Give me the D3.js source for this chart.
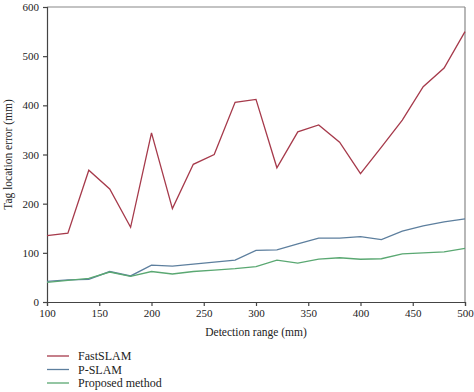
<!DOCTYPE html>
<html><head><meta charset="utf-8">
<script src="https://cdn.jsdelivr.net/npm/d3@7"></script>
<style>body{margin:0;background:#fff}svg{display:block}text{font-family:"Liberation Serif","DejaVu Serif",serif;fill:#222}</style>
</head><body><svg id="c" width="474" height="392"></svg>
<script>
const xs = [100,120,140,160,180,200,220,240,260,280,300,320,340,360,380,400,420,440,460,480,500];
const fastSLAM = [135,140,268,230,152,344,190,280,300,406,412,273,346,360,325,261,315,370,438,476,550];
const pSLAM = [42,45,46,62,53,75,73,77,81,85,105,106,118,130,130,133,127,144,155,163,169];
const proposed = [40,44,48,61,52,62,57,62,65,68,72,85,79,87,90,87,88,98,100,102,109];
const xTicks = [100,150,200,250,300,350,400,450,500];
const yTicks = [0,100,200,300,400,500,600];
const seriesNames = ["FastSLAM","P-SLAM","Proposed method"];
const colors = ["#a63a4b","#5d7f9e","#5aa872"];

const svg = d3.select("#c");
const L=47,R=465,T=7,B=302;
const x = d3.scaleLinear().domain([100,500]).range([L,R]);
const y = d3.scaleLinear().domain([0,600]).range([B,T]);

// box top/right
svg.append("line").attr("x1",L).attr("x2",R).attr("y1",T).attr("y2",T).attr("stroke","#888").attr("stroke-width",1.2);
svg.append("line").attr("x1",R).attr("x2",R).attr("y1",T).attr("y2",B).attr("stroke","#888").attr("stroke-width",1.2);

const gx = svg.append("g").attr("transform",`translate(0,${B})`).call(d3.axisBottom(x).tickValues(xTicks).tickSize(4).tickPadding(3).tickFormat(d3.format("d")));
const gy = svg.append("g").attr("transform",`translate(${L},0)`).call(d3.axisLeft(y).tickValues(yTicks).tickSize(4).tickPadding(4).tickFormat(d3.format("d")));
[gx,gy].forEach(g=>{
  g.selectAll("path,line").attr("stroke","#444").attr("stroke-width",1.2);
  g.selectAll("text").style("font-family",'"Liberation Serif",serif').style("font-size","11px").attr("fill","#222");
});

svg.append("text").attr("x",(L+R)/2).attr("y",336).attr("text-anchor","middle").style("font-size","11.5px").text("Detection range (mm)");
svg.append("text").attr("transform",`translate(12,${(T+B)/2}) rotate(-90)`).attr("text-anchor","middle").style("font-size","11.5px").text("Tag location error (mm)");

const line = d3.line().x((d,i)=>x(xs[i])).y(d=>y(d));
[fastSLAM,pSLAM,proposed].forEach((s,i)=>{
  svg.append("path").datum(s).attr("d",line).attr("fill","none").attr("stroke",colors[i]).attr("stroke-width",1.3);
});

const lg = svg.append("g");
seriesNames.forEach((n,i)=>{
  const yy = 356 + i*13.5;
  lg.append("line").attr("x1",47).attr("x2",69).attr("y1",yy).attr("y2",yy).attr("stroke",colors[i]).attr("stroke-width",1.3);
  lg.append("text").attr("x",78).attr("y",yy+4).style("font-size","12px").text(n);
});
</script></body></html>
